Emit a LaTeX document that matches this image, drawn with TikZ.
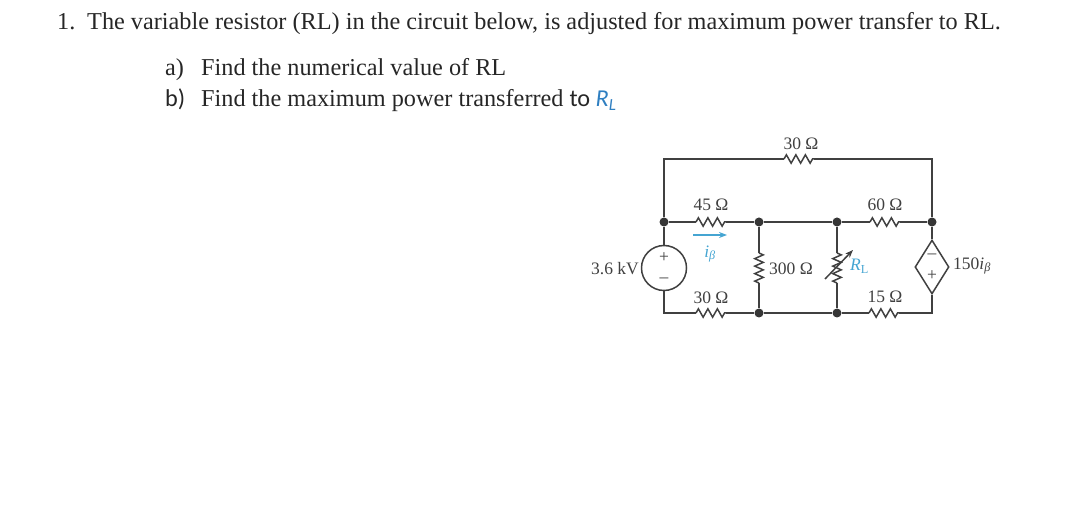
\documentclass[tikz,border=0pt]{standalone}
\usepackage{fontspec}
\setmainfont{Liberation Serif}
\newfontfamily\calfont{Carlito}
\usetikzlibrary{decorations.pathmorphing,shapes.geometric,arrows.meta}
\definecolor{wirecol}{HTML}{404040}
\definecolor{labelblue}{HTML}{45A5D2}
\definecolor{qblue}{HTML}{2F7FC1}
\tikzset{
  wire/.style={draw=wirecol,line width=1.5pt},
  res/.style={wire,decorate,decoration={zigzag,amplitude=4.2pt,segment length=9.5pt}},
  vres/.style={wire,decorate,decoration={zigzag,amplitude=4.2pt,segment length=7.5pt}},
  junc/.style={circle,fill=wirecol!85!black,draw=none,inner sep=0pt,minimum size=9pt},
  ques/.style={anchor=base west,inner sep=0pt,text=black!85,font=\fontsize{24.25}{25}\selectfont},
  lab/.style={inner sep=0pt,text=wirecol,font=\fontsize{17.5}{18}\selectfont},
  bluelab/.style={lab,text=labelblue}
}
\begin{document}
\begin{tikzpicture}[x=1pt,y=-1pt]
\useasboundingbox (0,0) rectangle (1080,526);

\node[ques] (q1) at (57,30) {1.};
\node[ques] (q1t) at (87,30) {The variable resistor (RL) in the circuit below, is adjusted for maximum power transfer to RL.};
\node[ques] (qa) at (165,76) {a)};
\node[ques] (qat) at (201,76) {Find the numerical value of RL};
\node[ques] (qb) at (165,107) {\calfont b)};
\node[ques] (qbt) at (201,107) {Find the maximum power transferred \calfont to \textcolor{qblue}{\textit{R}\textsubscript{\textit{L}}}};

% corners and junctions
\coordinate (tl) at (664,159);
\coordinate (tr) at (932,159);
\coordinate (bl) at (664,313);
\coordinate (br) at (932,313);
\node[junc] (a) at (664,222) {};
\node[junc] (b) at (759,222) {};
\node[junc] (c) at (837,222) {};
\node[junc] (d) at (932,222) {};
\node[junc] (e) at (759,313) {};
\node[junc] (f) at (837,313) {};

% sources
\node[wire,circle,minimum size=45pt,inner sep=0pt] (vs) at (664,268) {};
\node[wire,diamond,minimum width=34pt,minimum height=54pt,inner sep=0pt] (is) at (932,267) {};

% resistor ends
\coordinate (r1a) at (784,159);
\coordinate (r1b) at (814,159);
\coordinate (r2a) at (696,222);
\coordinate (r2b) at (726,222);
\coordinate (r3a) at (696,313);
\coordinate (r3b) at (726,313);
\coordinate (r4a) at (870,222);
\coordinate (r4b) at (900,222);
\coordinate (r5a) at (869,313);
\coordinate (r5b) at (899,313);
\coordinate (r6a) at (759,253);
\coordinate (r6b) at (759,283);
\coordinate (r7a) at (837,253);
\coordinate (r7b) at (837,283);

% wires
\draw[wire] (vs) -- (a) -- (tl) -- (r1a);
\draw[res] (r1a) -- (r1b);
\draw[wire] (r1b) -- (tr) -- (d) -- (is);
\draw[wire] (a) -- (r2a);
\draw[res] (r2a) -- (r2b);
\draw[wire] (r2b) -- (b) -- (c) -- (r4a);
\draw[res] (r4a) -- (r4b);
\draw[wire] (r4b) -- (d);
\draw[wire] (vs) -- (bl) -- (r3a);
\draw[res] (r3a) -- (r3b);
\draw[wire] (r3b) -- (e) -- (f) -- (r5a);
\draw[res] (r5a) -- (r5b);
\draw[wire] (r5b) -- (br) -- (is.south);
\draw[wire] (b) -- (r6a);
\draw[vres] (r6a) -- (r6b);
\draw[wire] (r6b) -- (e);
\draw[wire] (c) -- (r7a);
\draw[vres] (r7a) -- (r7b);
\draw[wire] (r7b) -- (f);

% variable arrow and current arrow
\coordinate (v1) at (825,279);
\coordinate (v2) at (853,250);
\draw[wire,-{Stealth[length=8pt,width=6pt]}] (v1) -- (v2);
\coordinate (i1) at (693,235);
\coordinate (i2) at (727,235);
\draw[draw=labelblue,line width=1.5pt,-{Stealth[length=8pt,width=6pt]}] (i1) -- (i2);

% labels
\node[lab] (l1) at (801,144) {30 Ω};
\node[lab] (l2) at (711,205) {45 Ω};
\node[lab] (l3) at (711,298) {30 Ω};
\node[lab] (l4) at (885,205) {60 Ω};
\node[lab] (l5) at (885,297) {15 Ω};
\node[lab,anchor=west] (l6) at (769,269) {300 Ω};
\node[lab,anchor=east] (l7) at (639,269) {3.6 kV};
\node[lab,anchor=west] (l8) at (953,266) {150\textit{i}\textsubscript{\textit{β}}};
\node[bluelab] (l9) at (710,254) {\textit{i}\textsubscript{\textit{β}}};
\node[bluelab,anchor=west] (l10) at (850,266) {\textit{R}\textsubscript{L}};
\node[lab] (p1) at (664,258) {+};
\node[lab] (p2) at (664,280) {–};
\node[lab] (p3) at (932,256) {–};
\node[lab] (p4) at (932,276) {+};
\end{tikzpicture}
\end{document}
